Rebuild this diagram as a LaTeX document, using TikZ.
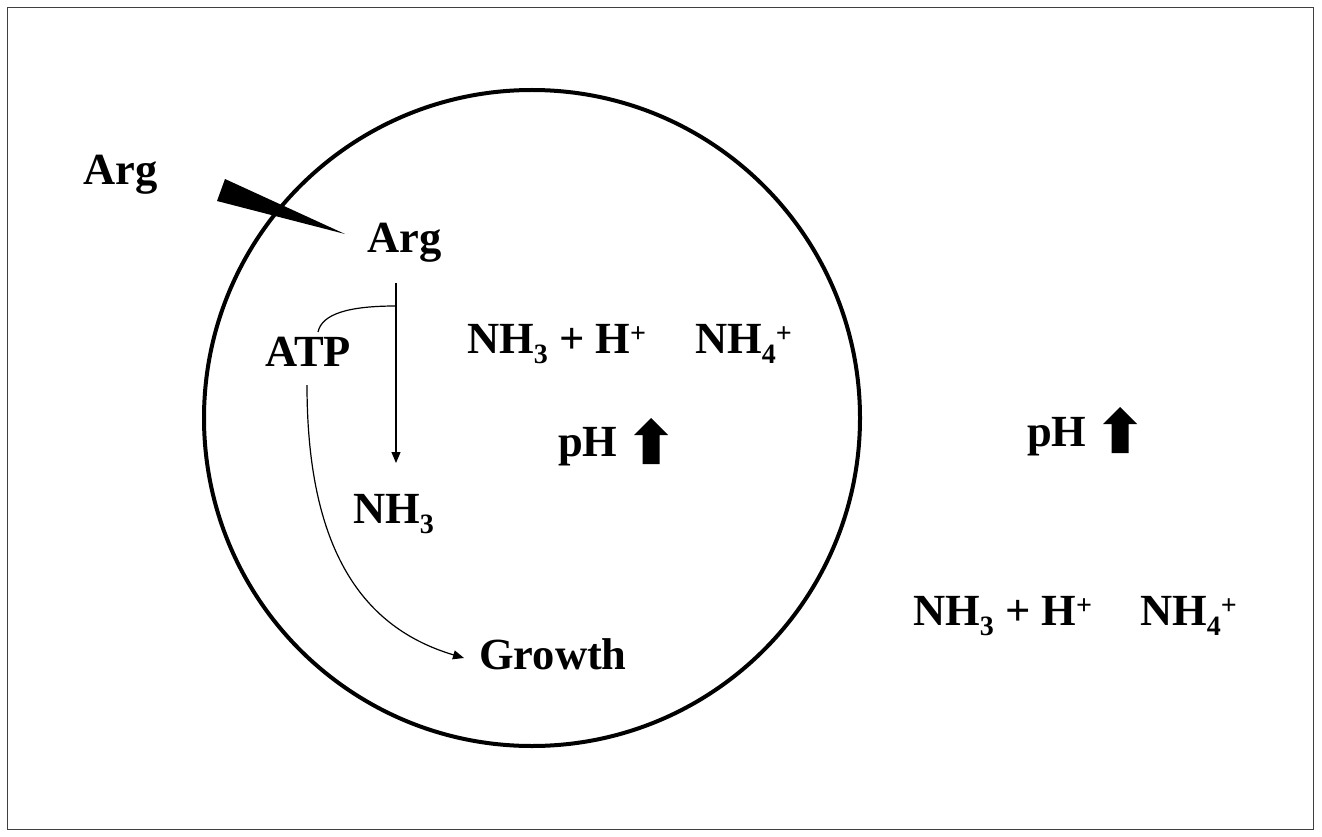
\documentclass[tikz,border=0pt]{standalone}
\usepackage{fontspec}
\setmainfont{Liberation Serif}
\usetikzlibrary{arrows.meta}
\newcommand{\chsub}[1]{\raisebox{-10pt}{\fontsize{28}{28}\selectfont #1}}
\newcommand{\chsup}[1]{\raisebox{11pt}{\fontsize{28}{28}\selectfont #1}}
\definecolor{framecol}{gray}{0.25}
\begin{document}
\begin{tikzpicture}[x=1pt,y=-1pt,
  lbl/.style={font=\fontsize{44.5}{44.5}\selectfont\bfseries, inner sep=0pt, anchor=base west},
  thinline/.style={line width=1.2pt},
  thinarrow/.style={line width=1.2pt, -{Triangle[length=11pt,width=9pt]}},
  bigup/.pic={\fill (0,0) -- (17,17) -- (8.5,17) -- (8.5,46) -- (-8.5,46) -- (-8.5,17) -- (-17,17) -- cycle;}
]
\useasboundingbox (0,0) rectangle (1322,837);
\draw[framecol, line width=1.5pt] (7.5,7.5) rectangle (1313.5,829.5);
% cell
\draw[line width=4pt] (532,418) circle[radius=328pt];
% labels
\node[lbl] (argout) at (83,185) {Arg};
\node[lbl] (argin) at (367,252) {Arg};
\node[lbl] (atp) at (265,366) {ATP};
\node[lbl] (nh3) at (353,523) {NH\chsub{3}};
\node[lbl] (growth) at (479,669) {Growth};
\node[lbl] (eqin) at (467,353) {NH\chsub{3} + H\chsup{+}};
\node[lbl] (nh4in) at (695,353) {NH\chsub{4}\chsup{+}};
\node[lbl] (phin) at (558,456) {pH};
\node[lbl] (phout) at (1027,446) {pH};
\node[lbl] (eqout) at (913,625) {NH\chsub{3} + H\chsup{+}};
\node[lbl] (nh4out) at (1140,625) {NH\chsub{4}\chsup{+}};
% transport wedge
\fill (225,179) -- (217,201) -- (345,234) -- cycle;
% pH arrows
\pic at (651,418) {bigup};
\pic at (1120,407) {bigup};
% connectors
\coordinate (vtop) at (396,283);
\coordinate (split) at (396,306);
\coordinate (vend) at (396,463);
\coordinate (atptop) at (318,332);
\coordinate (atpbot) at (307,385);
\coordinate (growthin) at (464,658);
\draw[thinarrow] (vtop) -- (vend);
\draw[thinline] (atptop) .. controls (322,314) and (348,306) .. (split);
\draw[thinarrow] (atpbot) .. controls (307,560) and (370,630) .. (growthin);
\end{tikzpicture}
\end{document}
